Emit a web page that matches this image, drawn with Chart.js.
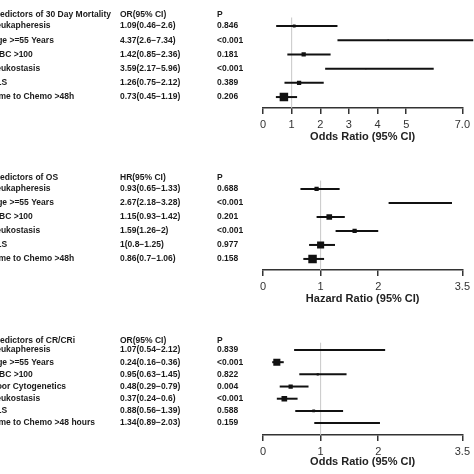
<!DOCTYPE html>
<html>
<head>
<script src="https://cdn.jsdelivr.net/npm/chart.js@4"></script>
<style>
  body { margin: 0; background: #fff; }
  canvas { position: absolute; left: 0; }
</style>
</head>
<body>
<canvas id="p1" style="top:0px" width="474" height="160"></canvas>
<canvas id="p2" style="top:160px" width="474" height="154"></canvas>
<canvas id="p3" style="top:314px" width="474" height="160"></canvas>
<script>
// panel 1: 30 day mortality
const labels1 = ['Leukapheresis', 'Age >=55 Years', 'WBC >100', 'Leukostasis', 'TLS', 'Time to Chemo >48h'];
const est1 = [1.09, 4.37, 1.42, 3.59, 1.26, 0.73];
const lo1 = [0.46, 2.6, 0.85, 2.17, 0.75, 0.45];
const hi1 = [2.6, 7.34, 2.36, 5.96, 2.12, 1.19];
const p1 = ['0.846', '<0.001', '0.181', '<0.001', '0.389', '0.206'];
const size1 = [2, 1, 3, 1, 3, 6];

// panel 2: OS
const labels2 = ['Leukapheresis', 'Age >=55 Years', 'WBC >100', 'Leukostasis', 'TLS', 'Time to Chemo >48h'];
const est2 = [0.93, 2.67, 1.15, 1.59, 1, 0.86];
const lo2 = [0.65, 2.18, 0.93, 1.26, 0.8, 0.7];
const hi2 = [1.33, 3.28, 1.42, 2, 1.25, 1.06];
const p2 = ['0.688', '<0.001', '0.201', '<0.001', '0.977', '0.158'];
const size2 = [3, 1.5, 4, 3, 5, 6];

// panel 3: CR/CRi
const labels3 = ['Leukapheresis', 'Age >=55 Years', 'WBC >100', 'Poor Cytogenetics', 'Leukostasis', 'TLS', 'Time to Chemo >48 hours'];
const est3 = [1.07, 0.24, 0.95, 0.48, 0.37, 0.88, 1.34];
const lo3 = [0.54, 0.16, 0.63, 0.29, 0.24, 0.56, 0.89];
const hi3 = [2.12, 0.36, 1.45, 0.79, 0.6, 1.39, 2.03];
const p3 = ['0.839', '<0.001', '0.822', '0.004', '<0.001', '0.588', '0.159'];
const size3 = [1, 5, 1.5, 3, 4, 2, 1];

const fmt = (e, l, h) => `${e}(${l}\u2212${h})`;

const forestPlugin = {
  id: 'forest',
  beforeDatasetsDraw(chart, args, o) {
    const { ctx, chartArea, scales: { x, y } } = chart;
    ctx.save();
    // reference line at 1
    ctx.strokeStyle = '#c8c8c8';
    ctx.lineWidth = 1;
    const x1 = x.getPixelForValue(1);
    ctx.beginPath();
    ctx.moveTo(x1, chartArea.top);
    ctx.lineTo(x1, chartArea.bottom);
    ctx.stroke();
    // CI lines
    ctx.strokeStyle = '#111';
    ctx.lineWidth = 2;
    o.lo.forEach((l, i) => {
      const py = y.getPixelForValue(i);
      ctx.beginPath();
      ctx.moveTo(x.getPixelForValue(l), py);
      ctx.lineTo(x.getPixelForValue(o.hi[i]), py);
      ctx.stroke();
    });
    // text columns
    ctx.fillStyle = '#1a1a1a';
    ctx.font = 'bold 8.5px "Liberation Sans", Arial, sans-serif';
    ctx.textBaseline = 'middle';
    const hy = y.getPixelForValue(-0.8);
    ctx.fillText(o.title, -9, hy);
    ctx.fillText(o.col, 120, hy);
    ctx.fillText('P', 217, hy);
    o.labels.forEach((lab, i) => {
      const py = y.getPixelForValue(i);
      ctx.fillText(lab, -9, py);
      ctx.fillText(fmt(o.est[i], o.lo[i], o.hi[i]), 120, py);
      ctx.fillText(o.p[i], 217, py);
    });
    ctx.restore();
  }
};

function makePanel(id, d) {
  new Chart(document.getElementById(id), {
    type: 'scatter',
    data: {
      datasets: [{
        data: d.est.map((v, i) => ({ x: v, y: i })),
        pointStyle: 'rect',
        pointRadius: d.size,
        backgroundColor: '#111',
        borderColor: '#111',
        borderWidth: 0
      }]
    },
    options: {
      responsive: false,
      animation: false,
      events: [],
      layout: { padding: { left: 263, right: 0, top: d.top, bottom: d.bottom } },
      plugins: { legend: { display: false }, tooltip: { enabled: false }, forest: d },
      scales: {
        x: {
          min: 0, max: d.xmax,
          afterFit: s => { s.height = d.axisH; },
          ticks: { stepSize: 1, color: '#333', font: { size: 11, family: 'Liberation Sans' }, padding: 4 },
          grid: { drawOnChartArea: false, drawTicks: true, tickLength: 6, color: '#333', lineWidth: 1.5 },
          border: { color: '#333', width: 1.5 },
          title: { display: true, text: d.axis, color: '#222', font: { size: 11, weight: 'bold', family: 'Liberation Sans' }, padding: { top: 2 } }
        },
        y: { display: false, reverse: true, min: -0.6, max: d.ymax }
      }
    },
    plugins: [forestPlugin]
  });
}

makePanel('p1', { labels: labels1, est: est1, lo: lo1, hi: hi1, p: p1, size: size1,
  title: 'Predictors of 30 Day Mortality', col: 'OR(95% CI)', axis: 'Odds Ratio (95% CI)',
  xmax: 6.96, ymax: 5.77, top: 17.5, bottom: 12, axisH: 40 });
makePanel('p2', { labels: labels2, est: est2, lo: lo2, hi: hi2, p: p2, size: size2,
  title: 'Predictors of OS', col: 'HR(95% CI)', axis: 'Hazard Ratio (95% CI)',
  xmax: 3.46, ymax: 5.79, top: 20.6, bottom: 4, axisH: 40 });
makePanel('p3', { labels: labels3, est: est3, lo: lo3, hi: hi3, p: p3, size: size3,
  title: 'Predictors of CR/CRi', col: 'OR(95% CI)', axis: 'Odds Ratio (95% CI)',
  xmax: 3.46, ymax: 6.98, top: 28.7, bottom: 1, axisH: 38 });
</script>
</body>
</html>
